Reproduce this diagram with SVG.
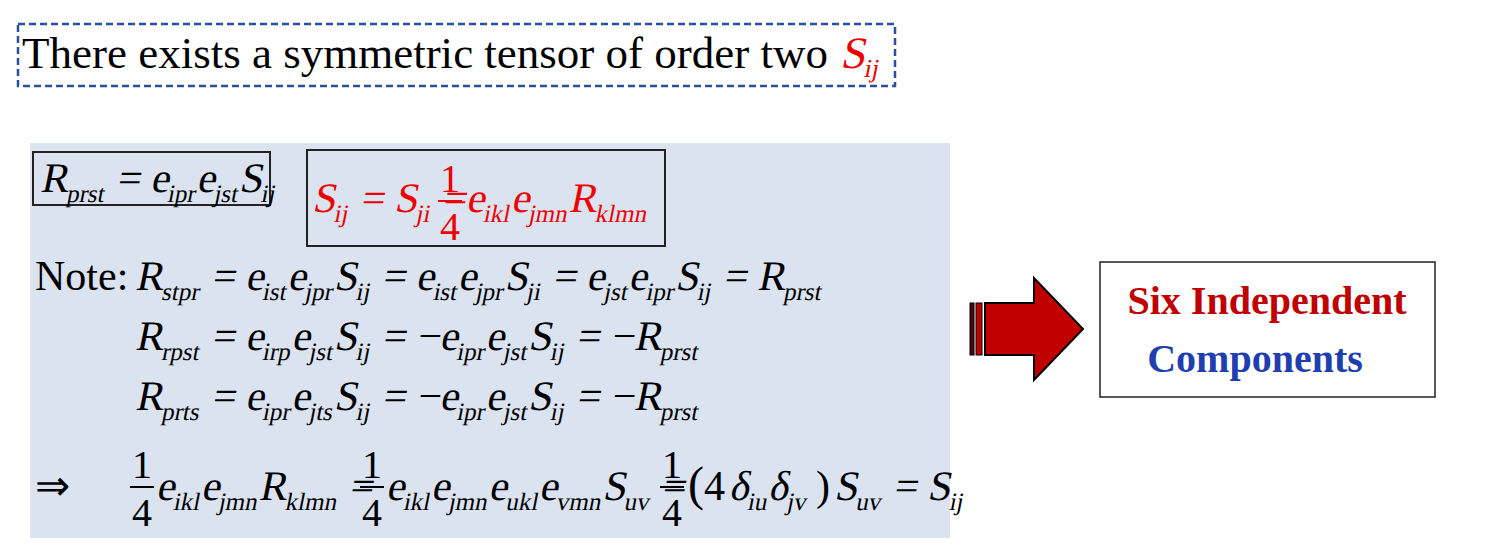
<svg xmlns="http://www.w3.org/2000/svg" width="1504" height="550" viewBox="0 0 1504 550">
<style>
.m{font-size:42px;fill:#000}
.r{fill:#e00}
.s{font-size:25px}
.fr{font-size:40px;text-anchor:middle}
</style>
<rect width="1504" height="550" fill="#fff"/>
<g font-family="Liberation Serif, serif">
<g id="title">
<rect x="18" y="24" width="877" height="62" fill="none" stroke="#2850a0" stroke-width="2.5" stroke-dasharray="7,4"/>
<text x="22" y="68" font-size="45">There exists a symmetric tensor of order two</text>
<text x="840" y="68" font-size="45" fill="#e00" transform="matrix(1 0 -0.2 1 13.6 0)">S<tspan font-size="26" dy="9">ij</tspan></text>
</g>
<g id="panel">
<rect x="30" y="143" width="920" height="395" fill="#dbe3f1"/>
<rect x="33" y="152" width="237" height="53" fill="none" stroke="#222" stroke-width="2"/>
<rect x="307" y="150" width="358" height="96" fill="none" stroke="#222" stroke-width="2"/>
<text class="m" x="40" y="192" transform="matrix(1 0 -0.2 1 38.4 0)">R<tspan class="s" dy="10">prst</tspan><tspan dy="-10"> = </tspan>e<tspan class="s" dy="10">ipr</tspan><tspan dy="-10">e</tspan><tspan class="s" dy="10">jst</tspan><tspan dy="-10">S</tspan><tspan class="s" dy="10">ij</tspan></text>
<text class="m r" x="312" y="212" transform="matrix(1 0 -0.2 1 42.4 0)">S<tspan class="s" dy="10">ij</tspan><tspan dy="-10"> = </tspan>S<tspan class="s" dy="10">ji</tspan><tspan dy="-10"> =</tspan></text>
<text class="fr" x="450" y="192" fill="#e00">1</text><line x1="438" y1="201" x2="462" y2="201" stroke="#e00" stroke-width="2"/><text class="fr" x="450" y="240" fill="#e00">4</text>
<text class="m r" x="466" y="212" transform="matrix(1 0 -0.2 1 42.4 0)">e<tspan class="s" dy="10">ikl</tspan><tspan dy="-10">e</tspan><tspan class="s" dy="10">jmn</tspan><tspan dy="-10">R</tspan><tspan class="s" dy="10">klmn</tspan></text>
<text class="m" x="35" y="290">Note:</text>
<text class="m" x="135" y="290" transform="matrix(1 0 -0.2 1 58 0)">R<tspan class="s" dy="10">stpr</tspan><tspan dy="-10"> = </tspan>e<tspan class="s" dy="10">ist</tspan><tspan dy="-10">e</tspan><tspan class="s" dy="10">jpr</tspan><tspan dy="-10">S</tspan><tspan class="s" dy="10">ij</tspan><tspan dy="-10"> = </tspan>e<tspan class="s" dy="10">ist</tspan><tspan dy="-10">e</tspan><tspan class="s" dy="10">jpr</tspan><tspan dy="-10">S</tspan><tspan class="s" dy="10">ji</tspan><tspan dy="-10"> = </tspan>e<tspan class="s" dy="10">jst</tspan><tspan dy="-10">e</tspan><tspan class="s" dy="10">ipr</tspan><tspan dy="-10">S</tspan><tspan class="s" dy="10">ij</tspan><tspan dy="-10"> = </tspan>R<tspan class="s" dy="10">prst</tspan></text>
<text class="m" x="135" y="350" transform="matrix(1 0 -0.2 1 70 0)">R<tspan class="s" dy="10">rpst</tspan><tspan dy="-10"> = </tspan>e<tspan class="s" dy="10">irp</tspan><tspan dy="-10">e</tspan><tspan class="s" dy="10">jst</tspan><tspan dy="-10">S</tspan><tspan class="s" dy="10">ij</tspan><tspan dy="-10"> = −</tspan>e<tspan class="s" dy="10">ipr</tspan><tspan dy="-10">e</tspan><tspan class="s" dy="10">jst</tspan><tspan dy="-10">S</tspan><tspan class="s" dy="10">ij</tspan><tspan dy="-10"> = −</tspan>R<tspan class="s" dy="10">prst</tspan></text>
<text class="m" x="135" y="410" transform="matrix(1 0 -0.2 1 82 0)">R<tspan class="s" dy="10">prts</tspan><tspan dy="-10"> = </tspan>e<tspan class="s" dy="10">ipr</tspan><tspan dy="-10">e</tspan><tspan class="s" dy="10">jts</tspan><tspan dy="-10">S</tspan><tspan class="s" dy="10">ij</tspan><tspan dy="-10"> = −</tspan>e<tspan class="s" dy="10">ipr</tspan><tspan dy="-10">e</tspan><tspan class="s" dy="10">jst</tspan><tspan dy="-10">S</tspan><tspan class="s" dy="10">ij</tspan><tspan dy="-10"> = −</tspan>R<tspan class="s" dy="10">prst</tspan></text>
<text class="m" x="35" y="500">⇒</text>
<text class="fr" x="142" y="478">1</text><line x1="130" y1="487" x2="154" y2="487" stroke="#000" stroke-width="2"/><text class="fr" x="142" y="526">4</text>
<text class="m" x="156" y="500" transform="matrix(1 0 -0.2 1 100 0)">e<tspan class="s" dy="10">ikl</tspan><tspan dy="-10">e</tspan><tspan class="s" dy="10">jmn</tspan><tspan dy="-10">R</tspan><tspan class="s" dy="10">klmn</tspan><tspan dy="-10"> =</tspan></text>
<text class="fr" x="372" y="478">1</text><line x1="360" y1="487" x2="384" y2="487" stroke="#000" stroke-width="2"/><text class="fr" x="372" y="526">4</text>
<text class="m" x="386" y="500" transform="matrix(1 0 -0.2 1 100 0)">e<tspan class="s" dy="10">ikl</tspan><tspan dy="-10">e</tspan><tspan class="s" dy="10">jmn</tspan><tspan dy="-10">e</tspan><tspan class="s" dy="10">ukl</tspan><tspan dy="-10">e</tspan><tspan class="s" dy="10">vmn</tspan><tspan dy="-10">S</tspan><tspan class="s" dy="10">uv</tspan><tspan dy="-10"> =</tspan></text>
<text class="fr" x="672" y="478">1</text><line x1="660" y1="487" x2="684" y2="487" stroke="#000" stroke-width="2"/><text class="fr" x="672" y="526">4</text>
<text class="m" x="688" y="500"><tspan font-size="48">(</tspan>4</text>
<text class="m" x="729" y="500" transform="matrix(1 0 -0.2 1 100 0)">δ<tspan class="s" dy="10">iu</tspan><tspan dy="-10">δ</tspan><tspan class="s" dy="10">jv</tspan></text>
<text class="m" x="816" y="500" font-size="48">)</text>
<text class="m" x="834" y="500" transform="matrix(1 0 -0.2 1 100 0)">S<tspan class="s" dy="10">uv</tspan><tspan dy="-10"> = </tspan>S<tspan class="s" dy="10">ij</tspan></text>
</g>
<g id="arrow">
<rect x="970" y="303" width="4" height="52" fill="#4a0a0a" stroke="#000" stroke-width="1"/>
<rect x="976" y="303" width="6" height="52" fill="#c00000" stroke="#000" stroke-width="1"/>
<path d="M985 303 H1034 V278 L1083 329 L1034 380 V355 H985 Z" fill="#c00000" stroke="#000" stroke-width="2"/>
</g>
<g id="result">
<rect x="1100" y="262" width="335" height="135" fill="#fff" stroke="#222" stroke-width="1.5"/>
<text x="1267" y="314" text-anchor="middle" font-weight="bold" font-size="40" fill="#c00000">Six Independent</text>
<text x="1255" y="372" text-anchor="middle" font-weight="bold" font-size="40" fill="#1f3fb0">Components</text>
</g>
</g>
</svg>
